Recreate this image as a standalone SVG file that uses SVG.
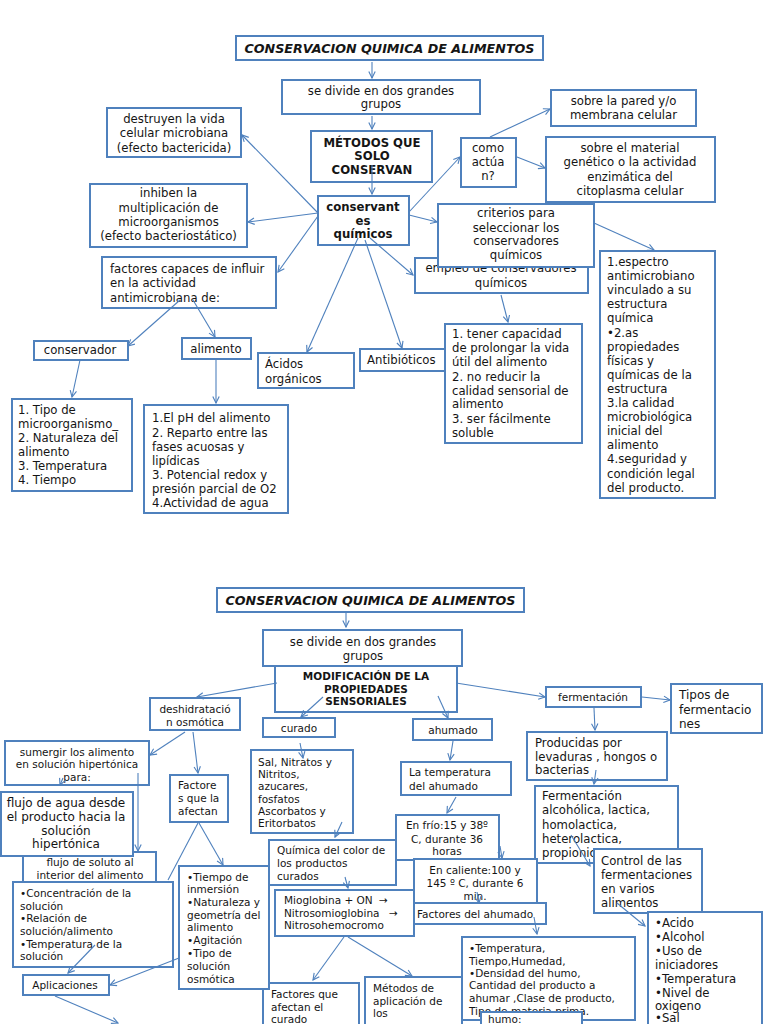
<svg xmlns="http://www.w3.org/2000/svg" width="768" height="1024" viewBox="0 0 768 1024">
<defs>
<style>
.b{fill:#fff;stroke:#4f81bd;stroke-width:2}
.t{font-family:"DejaVu Sans","Liberation Sans",sans-serif;font-size:11.7px;fill:#151515}
.s{font-size:10.5px}
.m{font-size:12px}
.bd{font-weight:bold}
.it{font-style:italic}
.c{text-anchor:middle}
.ln{fill:none;stroke:#4f81bd;stroke-width:1.1;marker-end:url(#ah)}
.pl{fill:none;stroke:#4f81bd;stroke-width:1.1}
</style>
<marker id="ah" viewBox="0 0 10 10" refX="9" refY="5" markerWidth="8" markerHeight="8" markerUnits="userSpaceOnUse" orient="auto">
<path d="M1,1 L9,5 L1,9" fill="none" stroke="#4f81bd" stroke-width="1.4"/>
</marker>
</defs>
<rect width="768" height="1024" fill="#fff"/>

<!-- ===== TOP MAP ===== -->
<g id="title1"><rect class="b" x="236" y="36" width="307" height="24"/><text class="t bd it c" style="font-size:12.7px" x="389.5" y="52.5">CONSERVACION QUIMICA DE ALIMENTOS</text></g>
<g id="divide1"><rect class="b" x="282" y="80" width="198" height="34"/><text class="t c" x="381" y="95">se divide en dos grandes</text><text class="t c" x="381" y="108">grupos</text></g>
<g id="metodos"><rect class="b" x="311" y="131" width="121" height="51"/><text class="t bd c" x="372" y="147">MÉTODOS QUE</text><text class="t bd c" x="372" y="160">SOLO</text><text class="t bd c" x="372" y="174">CONSERVAN</text></g>
<g id="conservantes"><rect class="b" x="318" y="196" width="91" height="49"/><text class="t bd c" x="363" y="211">conservant</text><text class="t bd c" x="363" y="225">es</text><text class="t bd c" x="363" y="238">químicos</text></g>
<g id="destruyen"><rect class="b" x="107" y="108" width="134" height="49"/><text class="t c" x="174" y="123">destruyen la vida</text><text class="t c" x="174" y="137">celular microbiana</text><text class="t c" x="174" y="152">(efecto bactericida)</text></g>
<g id="inhiben"><rect class="b" x="90" y="184" width="157" height="63"/><text class="t c" x="168.5" y="197">inhiben la</text><text class="t c" x="168.5" y="212">multiplicación de</text><text class="t c" x="168.5" y="226">microorganismos</text><text class="t c" x="168.5" y="240">(efecto bacteriostático)</text></g>
<g id="factores"><rect class="b" x="102" y="257" width="174" height="51"/><text class="t" x="110" y="273">factores capaces de influir</text><text class="t" x="110" y="287">en la actividad</text><text class="t" x="110" y="302">antimicrobiana de:</text></g>
<g id="conservador"><rect class="b" x="34" y="341" width="94" height="19"/><text class="t c" x="80" y="354">conservador</text></g>
<g id="alimento"><rect class="b" x="182" y="338" width="69" height="21"/><text class="t c" x="216" y="353">alimento</text></g>
<g id="lista-conservador"><rect class="b" x="12" y="399" width="120" height="92"/>
<text class="t" x="18" y="414">1. Tipo de</text><text class="t" x="18" y="428">microorganismo_</text><text class="t" x="18" y="442">2. Naturaleza del</text><text class="t" x="18" y="456">alimento</text><text class="t" x="18" y="470">3. Temperatura</text><text class="t" x="18" y="484">4. Tiempo</text></g>
<g id="lista-alimento"><rect class="b" x="144" y="405" width="144" height="108"/>
<text class="t" x="152" y="422">1.El pH del alimento</text><text class="t" x="152" y="437">2. Reparto entre las</text><text class="t" x="152" y="451">fases acuosas y</text><text class="t" x="152" y="465">lipídicas</text><text class="t" x="152" y="479">3. Potencial redox y</text><text class="t" x="152" y="493">presión parcial de O2</text><text class="t" x="152" y="507">4.Actividad de agua</text></g>
<g id="acidos"><rect class="b" x="258" y="353" width="96" height="35"/><text class="t" x="265" y="368">Ácidos</text><text class="t" x="265" y="383">orgánicos</text></g>
<g id="antibioticos"><rect class="b" x="360" y="349" width="86" height="22"/><text class="t" x="367" y="364">Antibióticos</text></g>
<g id="empleo"><rect class="b" x="415" y="258" width="173" height="35"/><text class="t c" x="501" y="272">empleo de conservadores</text><text class="t c" x="501" y="287">químicos</text></g>
<g id="criterios"><rect class="b" x="438" y="204" width="156" height="63"/><text class="t c" x="516" y="217">criterios  para</text><text class="t c" x="516" y="232">seleccionar los</text><text class="t c" x="516" y="245">conservadores</text><text class="t c" x="516" y="259">químicos</text></g>
<g id="como"><rect class="b" x="461" y="138" width="55" height="49"/><text class="t c" x="488" y="152">como</text><text class="t c" x="488" y="166">actúa</text><text class="t c" x="488" y="180">n?</text></g>
<g id="pared"><rect class="b" x="551" y="90" width="145" height="36"/><text class="t c" x="623.5" y="105">sobre la pared y/o</text><text class="t c" x="623.5" y="119">membrana celular</text></g>
<g id="material"><rect class="b" x="546" y="137" width="169" height="65"/><text class="t c" x="630" y="152">sobre el material</text><text class="t c" x="630" y="166">genético o la actividad</text><text class="t c" x="630" y="181">enzimática del</text><text class="t c" x="630" y="195">citoplasma celular</text></g>
<g id="espectro"><rect class="b" x="600" y="251" width="115" height="247"/>
<text class="t" x="607" y="266">1.espectro</text><text class="t" x="607" y="280">antimicrobiano</text><text class="t" x="607" y="294">vinculado a su</text><text class="t" x="607" y="308">estructura</text><text class="t" x="607" y="322">química</text><text class="t" x="607" y="337">•2.as</text><text class="t" x="607" y="351">propiedades</text><text class="t" x="607" y="365">físicas y</text><text class="t" x="607" y="379">químicas de la</text><text class="t" x="607" y="393">estructura</text><text class="t" x="607" y="407">3.la calidad</text><text class="t" x="607" y="421">microbiológica</text><text class="t" x="607" y="435">inicial del</text><text class="t" x="607" y="449">alimento</text><text class="t" x="607" y="463">4.seguridad y</text><text class="t" x="607" y="478">condición legal</text><text class="t" x="607" y="492">del producto.</text></g>
<g id="tener"><rect class="b" x="445" y="324" width="137" height="119"/>
<text class="t" x="452" y="338">1. tener capacidad</text><text class="t" x="452" y="352">de prolongar la vida</text><text class="t" x="452" y="366">útil del alimento</text><text class="t" x="452" y="381">2. no reducir la</text><text class="t" x="452" y="395">calidad sensorial de</text><text class="t" x="452" y="408">alimento</text><text class="t" x="452" y="423">3. ser fácilmente</text><text class="t" x="452" y="437">soluble</text></g>

<!-- ===== BOTTOM MAP ===== -->
<g id="title2"><rect class="b" x="217" y="588" width="307" height="24"/><text class="t bd it c" style="font-size:12.7px" x="370.5" y="604.5">CONSERVACION QUIMICA DE ALIMENTOS</text></g>
<g id="divide2"><rect class="b" x="263" y="630" width="199" height="36"/><text class="t c" x="363" y="646">se divide en dos grandes</text><text class="t c" x="363" y="660">grupos</text></g>
<g id="modificacion"><rect class="b" x="275" y="666" width="182" height="46"/><text class="t s bd c" x="366" y="680">MODIFICACIÓN DE LA</text><text class="t s bd c" x="366" y="693">PROPIEDADES</text><text class="t s bd c" x="366" y="705">SENSORIALES</text></g>
<g id="deshidratacion"><rect class="b" x="150" y="698" width="90" height="32"/><text class="t s c" x="195" y="713">deshidratació</text><text class="t s c" x="195" y="726">n osmótica</text></g>
<g id="curado"><rect class="b" x="263" y="718" width="72" height="19"/><text class="t s c" x="299" y="732">curado</text></g>
<g id="ahumado"><rect class="b" x="413" y="719" width="79" height="21"/><text class="t s c" x="453" y="734">ahumado</text></g>
<g id="fermentacion"><rect class="b" x="546" y="687" width="95" height="20"/><text class="t s c" x="593" y="701">fermentación</text></g>
<g id="tipos"><rect class="b" x="671" y="684" width="91" height="49"/><text class="t m" x="679" y="699">Tipos de</text><text class="t m" x="679" y="714">fermentacio</text><text class="t m" x="679" y="728">nes</text></g>
<g id="producidas"><rect class="b" x="527" y="732" width="140" height="48"/><text class="t" x="535" y="747">Producidas por</text><text class="t" x="535" y="761">levaduras , hongos o</text><text class="t" x="535" y="774">bacterias</text></g>
<g id="ferm-tipos"><rect class="b" x="535" y="786" width="143" height="77"/><text class="t" x="542" y="800">Fermentación</text><text class="t" x="542" y="814">alcohólica, lactica,</text><text class="t" x="542" y="829">homolactica,</text><text class="t" x="542" y="843">heterolactica,</text><text class="t" x="542" y="857">propionica</text></g>
<g id="control"><rect class="b" x="594" y="849" width="108" height="64"/><text class="t" x="601" y="865">Control de las</text><text class="t" x="601" y="879">fermentaciones</text><text class="t" x="601" y="893">en varios</text><text class="t" x="601" y="907">alimentos</text></g>
<g id="acido"><rect class="b" x="648" y="912" width="114" height="130"/><text class="t" x="655" y="927">•Acido</text><text class="t" x="655" y="941">•Alcohol</text><text class="t" x="655" y="955">•Uso de</text><text class="t" x="655" y="969">iniciadores</text><text class="t" x="655" y="983">•Temperatura</text><text class="t" x="655" y="997">•Nivel de</text><text class="t" x="655" y="1010">oxigeno</text><text class="t" x="655" y="1022">•Sal</text></g>
<g id="temp-ahumado"><rect class="b" x="401" y="762" width="110" height="33"/><text class="t s" x="409" y="776">La temperatura</text><text class="t s" x="409" y="790">del ahumado</text></g>
<g id="frio"><rect class="b" x="396" y="815" width="103" height="45"/><text class="t s c" x="447" y="829">En frío:15 y 38º</text><text class="t s c" x="447" y="843">C, durante 36</text><text class="t s c" x="447" y="855">horas</text></g>
<g id="caliente"><rect class="b" x="414" y="859" width="123" height="44"/><text class="t s c" x="475" y="874">En caliente:100 y</text><text class="t s c" x="475" y="887">145 º C, durante 6</text><text class="t s c" x="475" y="900">min.</text></g>
<g id="factores-ahumado"><rect class="b" x="409" y="903" width="137" height="21"/><text class="t s" x="417" y="918">Factores del ahumado</text></g>
<g id="lista-ahumado"><rect class="b" x="462" y="937" width="173" height="83"/><text class="t s" x="469" y="952">•Temperatura,</text><text class="t s" x="469" y="965">Tiempo,Humedad,</text><text class="t s" x="469" y="977">•Densidad del humo,</text><text class="t s" x="469" y="989">Cantidad del producto a</text><text class="t s" x="469" y="1002">ahumar ,Clase de producto,</text><text class="t s" x="469" y="1015">Tipo de materia prima.</text></g>
<g id="humo"><rect class="b" x="481" y="1012" width="101" height="30"/><text class="t s" x="488" y="1023">humo:</text></g>
<g id="sal"><rect class="b" x="251" y="750" width="102" height="83"/><text class="t s" x="258" y="766">Sal, Nitratos y</text><text class="t s" x="258" y="778">Nitritos,</text><text class="t s" x="258" y="790">azucares,</text><text class="t s" x="258" y="803">fosfatos</text><text class="t s" x="258" y="815">Ascorbatos y</text><text class="t s" x="258" y="827">Eritorbatos</text></g>
<g id="quimica-color"><rect class="b" x="269" y="840" width="127" height="45"/><text class="t s" x="277" y="854">Química del color de</text><text class="t s" x="277" y="867">los productos</text><text class="t s" x="277" y="880">curados</text></g>
<g id="mioglobina"><rect class="b" x="275" y="890" width="139" height="46"/><text class="t s" x="284" y="904">Mioglobina + ON <tspan x="379">→</tspan></text><text class="t s" x="284" y="917">Nitrosomioglobina <tspan x="389">→</tspan></text><text class="t s" x="284" y="929">Nitrosohemocromo</text></g>
<g id="factores-curado"><rect class="b" x="263" y="983" width="96" height="50"/><text class="t s" x="271" y="998">Factores que</text><text class="t s" x="271" y="1011">afectan el</text><text class="t s" x="271" y="1023">curado</text></g>
<g id="metodos-aplicacion"><rect class="b" x="365" y="977" width="97" height="55"/><text class="t s" x="373" y="992">Métodos de</text><text class="t s" x="373" y="1005">aplicación de</text><text class="t s" x="373" y="1017">los</text></g>
<g id="sumergir"><rect class="b" x="5" y="741" width="144" height="44"/><text class="t s c" x="77" y="756">sumergir los alimento</text><text class="t s c" x="77" y="768">en solución hipertónica</text><text class="t s c" x="77" y="781">para:</text></g>
<g id="factores-afectan"><rect class="b" x="170" y="775" width="58" height="47"/><text class="t s" x="178" y="789">Factore</text><text class="t s" x="178" y="802">s que la</text><text class="t s" x="178" y="815">afectan</text></g>
<g id="flujo-soluto"><rect class="b" x="23" y="852" width="133" height="30"/><text class="t s c" x="90" y="866">flujo de soluto al</text><text class="t s c" x="90" y="879">interior del alimento</text></g>
<g id="flujo-agua"><rect class="b" x="1" y="792" width="132" height="64"/><text class="t m c" x="66" y="807">flujo de agua desde</text><text class="t m c" x="66" y="821">el producto hacia la</text><text class="t m c" x="66" y="835">solución</text><text class="t m c" x="66" y="848">hipertónica</text></g>
<g id="concentracion"><rect class="b" x="13" y="882" width="160" height="85"/><text class="t s" x="20" y="897">•Concentración de la</text><text class="t s" x="20" y="910">solución</text><text class="t s" x="20" y="922">•Relación de</text><text class="t s" x="20" y="935">solución/alimento</text><text class="t s" x="20" y="948">•Temperatura de la</text><text class="t s" x="20" y="960">solución</text></g>
<g id="tiempo"><rect class="b" x="179" y="866" width="90" height="123"/><text class="t s" x="187" y="881">•Tiempo de</text><text class="t s" x="187" y="893">inmersión</text><text class="t s" x="187" y="906">•Naturaleza y</text><text class="t s" x="187" y="919">geometría del</text><text class="t s" x="187" y="931">alimento</text><text class="t s" x="187" y="944">•Agitación</text><text class="t s" x="187" y="957">•Tipo de</text><text class="t s" x="187" y="970">solución</text><text class="t s" x="187" y="983">osmótica</text></g>
<g id="aplicaciones"><rect class="b" x="23" y="975" width="86" height="20"/><text class="t s c" x="65" y="989">Aplicaciones</text></g>

<g id="connectors">
<path class="ln" d="M372,62 L372,78"/>
<path class="ln" d="M372,116 L372,129"/>
<path class="ln" d="M372,165 L372,194"/>
<path class="ln" d="M318,213 L242,135"/>
<path class="ln" d="M318,213 L248,222"/>
<path class="ln" d="M318,216 L278,272"/>
<path class="ln" d="M180,300 L128,346"/>
<path class="ln" d="M193,300 L215,337"/>
<path class="ln" d="M80,360 L72,397"/>
<path class="ln" d="M216,360 L216,403"/>
<path class="ln" d="M358,238 L307,352"/>
<path class="ln" d="M365,240 L402,348"/>
<path class="ln" d="M370,238 L413,275"/>
<path class="ln" d="M409,215 L437,222"/>
<path class="ln" d="M409,212 L460,157"/>
<path class="ln" d="M490,137 L550,109"/>
<path class="ln" d="M517,157 L545,168"/>
<path class="ln" d="M594,223 L654,250"/>
<path class="ln" d="M501,295 L508,322"/>

<path class="ln" d="M346,613 L346,627"/>
<path class="ln" d="M277,683 L197,697"/>
<path class="ln" d="M323,697 L301,717"/>
<path class="ln" d="M438,696 L448,718"/>
<path class="ln" d="M456,683 L545,697"/>
<path class="ln" d="M642,697 L670,700"/>
<path class="ln" d="M594,708 L595,730"/>
<path class="ln" d="M596,770 L594,784"/>
<path class="ln" d="M571,835 L590,866"/>
<path class="ln" d="M617,903 L645,926"/>
<path class="ln" d="M453,741 L450,760"/>
<path class="ln" d="M456,797 L447,813"/>
<path class="ln" d="M500,846 L502,858"/>
<path class="ln" d="M477,892 L479,903"/>
<path class="ln" d="M534,917 L537,934"/>
<path class="ln" d="M300,743 L303,758"/>
<path class="ln" d="M342,822 L335,837"/>
<path class="ln" d="M345,877 L348,888"/>
<path class="ln" d="M344,937 L313,980"/>
<path class="ln" d="M348,937 L412,976"/>
<path class="ln" d="M185,732 L150,755"/>
<path class="ln" d="M193,732 L198,773"/>
<path class="ln" d="M63,778 L60,785"/>
<path class="ln" d="M138,773 L138,851"/>
<path class="ln" d="M199,823 L223,865"/>
<path class="pl" d="M198,823 L168,880"/>
<path class="ln" d="M95,945 L68,973"/>
<path class="ln" d="M179,958 L110,985"/>
<path class="ln" d="M55,996 L118,1023"/>
</g>
</svg>
